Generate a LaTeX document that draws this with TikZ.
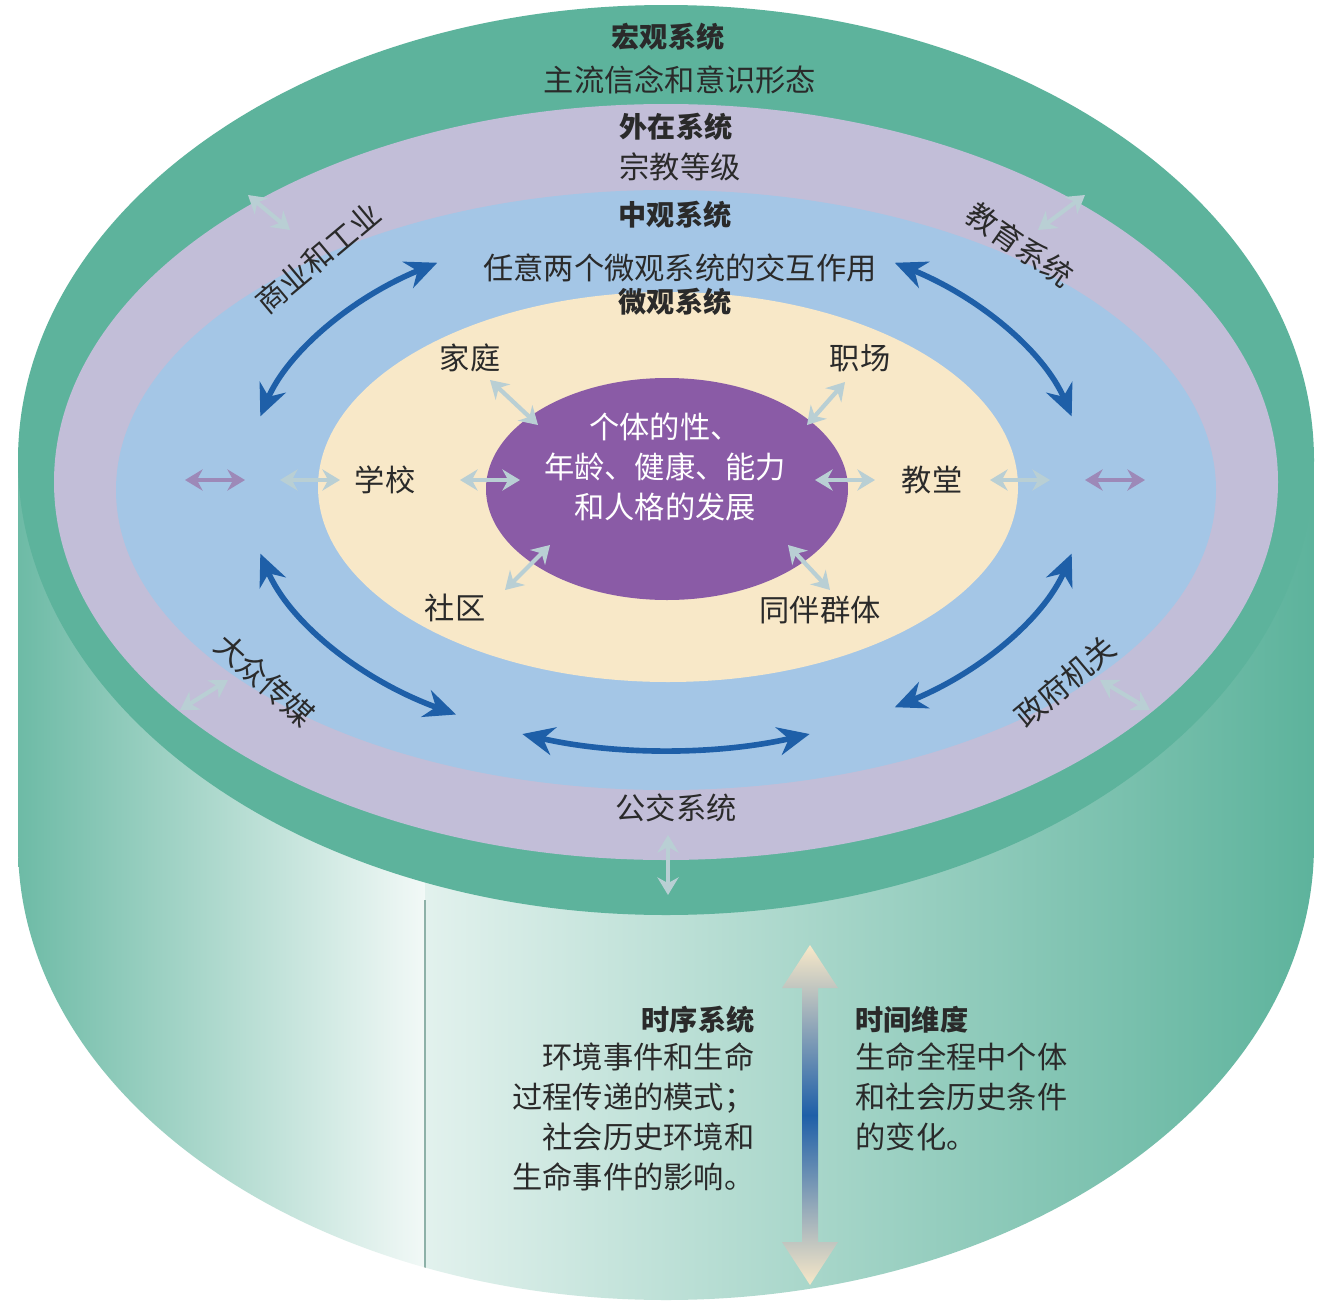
\documentclass[tikz,border=0pt]{standalone}
\usepackage{fontspec}
\setmainfont{Noto Sans CJK SC}
\usetikzlibrary{arrows.meta}
\definecolor{teal1}{HTML}{5DB39C}
\definecolor{ext}{HTML}{C2BED8}
\definecolor{meso}{HTML}{A4C6E6}
\definecolor{micro}{HTML}{F8E8C8}
\definecolor{core}{HTML}{8A5BA6}
\definecolor{dblue}{HTML}{1E5FA8}
\definecolor{sarr}{HTML}{B9CFD4}
\definecolor{txt}{HTML}{2A2A2A}
\begin{document}
\begin{tikzpicture}[x=0.01cm,y=-0.01cm,
  lab/.style={font=\fontsize{8.6}{10}\selectfont,text=txt,inner sep=0pt},
  head/.style={font=\fontsize{8}{10}\selectfont\bfseries,text=txt,inner sep=0pt},
  sa/.style={draw=sarr,line width=1.2pt,{Stealth[length=5pt,width=6pt]}-{Stealth[length=5pt,width=6pt]}},
  ba/.style={draw=dblue,line width=1.6pt,{Stealth[length=9pt,width=8pt]}-{Stealth[length=9pt,width=8pt]}}]
\useasboundingbox (0,0) rectangle (1333,1306);
\fill[white] (0,0) rectangle (1333,1306);
% side
\begin{scope}
\clip (18,460) -- (18,845) arc[start angle=180,end angle=0,x radius=648,y radius=455] -- (1314,460) -- cycle;
\shade[left color=teal1!90,right color=teal1!8] (18,400) rectangle (425,1306);
\shade[left color=teal1!18,right color=teal1] (425,400) rectangle (1314,1306);
\draw[teal1!70!black!60,line width=0.5pt] (425,900) -- (425,1306);
\end{scope}
% top ellipses
\fill[teal1] (666,460) ellipse[x radius=648,y radius=455];
\fill[ext] (666,482) ellipse[x radius=612,y radius=378];
\fill[meso] (666,490) ellipse[x radius=550,y radius=300];
\fill[micro] (668,487) ellipse[x radius=350,y radius=195];
\fill[core] (667,489) ellipse[x radius=181,y radius=111];
% blue arcs
\coordinate (c) at (666,485);
\draw[ba] (c) ++(-165:420 and 265) arc[start angle=-165,end angle=-123,x radius=420,y radius=265];
\draw[ba] (c) ++(-57:420 and 265) arc[start angle=-57,end angle=-15,x radius=420,y radius=265];
\draw[ba] (c) ++(15:420 and 265) arc[start angle=15,end angle=57,x radius=420,y radius=265];
\draw[ba] (c) ++(120:420 and 265) arc[start angle=120,end angle=165,x radius=420,y radius=265];
\draw[ba] (c) ++(110:420 and 265) arc[start angle=110,end angle=70,x radius=420,y radius=265];
% small arrows
\draw[sa] (248,195) -- (290,230);
\draw[sa] (1085,195) -- (1038,230);
\draw[sa,draw=core!60!sarr] (185,480) -- (245,480);
\draw[sa,draw=core!60!sarr] (1085,480) -- (1145,480);
\draw[sa] (280,480) -- (340,480);
\draw[sa] (990,480) -- (1050,480);
\draw[sa] (460,480) -- (520,480);
\draw[sa] (815,480) -- (875,480);
\draw[sa] (490,380) -- (538,425);
\draw[sa] (845,382) -- (807,425);
\draw[sa] (505,590) -- (550,545);
\draw[sa] (788,545) -- (830,590);
\draw[sa] (180,710) -- (228,680);
\draw[sa] (1100,680) -- (1150,710);
\draw[sa] (668,835) -- (668,895);
% big arrow
\shade[top color=micro,bottom color=micro,middle color=dblue]
 (810,945) -- (838,988) -- (818,988) -- (818,1242) -- (838,1242) -- (810,1285) -- (782,1242) -- (802,1242) -- (802,988) -- (782,988) -- cycle;
% texts
\node[head] (h1) at (668,37) {宏观系统};
\node[lab] (t1) at (680,80) {主流信念和意识形态};
\node[head] (h2) at (676,127) {外在系统};
\node[lab] (t2) at (680,167) {宗教等级};
\node[head] (h3) at (675,215) {中观系统};
\node[lab] (t3) at (680,268) {任意两个微观系统的交互作用};
\node[head] (h4) at (675,302) {微观系统};
\node[lab] at (470,358) {家庭};
\node[lab] at (860,358) {职场};
\node[lab] at (385,480) {学校};
\node[lab] at (932,480) {教堂};
\node[lab] at (455,608) {社区};
\node[lab] at (820,610) {同伴群体};
\node[lab,text=white] at (665,427) {个体的性、};
\node[lab,text=white] at (665,467) {年龄、健康、能力};
\node[lab,text=white] at (665,507) {和人格的发展};
\node[lab,rotate=40] at (318,258) {商业和工业};
\node[lab,rotate=-35] at (1020,245) {教育系统};
\node[lab,rotate=-42] at (265,680) {大众传媒};
\node[lab,rotate=40] at (1065,682) {政府机关};
\node[lab] at (676,808) {公交系统};
\node[head,anchor=east] at (755,1020) {时序系统};
\node[lab,anchor=north east,align=right,font=\fontsize{8.6}{11.4}\selectfont] at (755,1042) {环境事件和生命\\过程传递的模式；\\社会历史环境和\\生命事件的影响。};
\node[head,anchor=west] at (855,1020) {时间维度};
\node[lab,anchor=north west,align=left,font=\fontsize{8.6}{11.4}\selectfont] at (855,1042) {生命全程中个体\\和社会历史条件\\的变化。};
\end{tikzpicture}
\end{document}
